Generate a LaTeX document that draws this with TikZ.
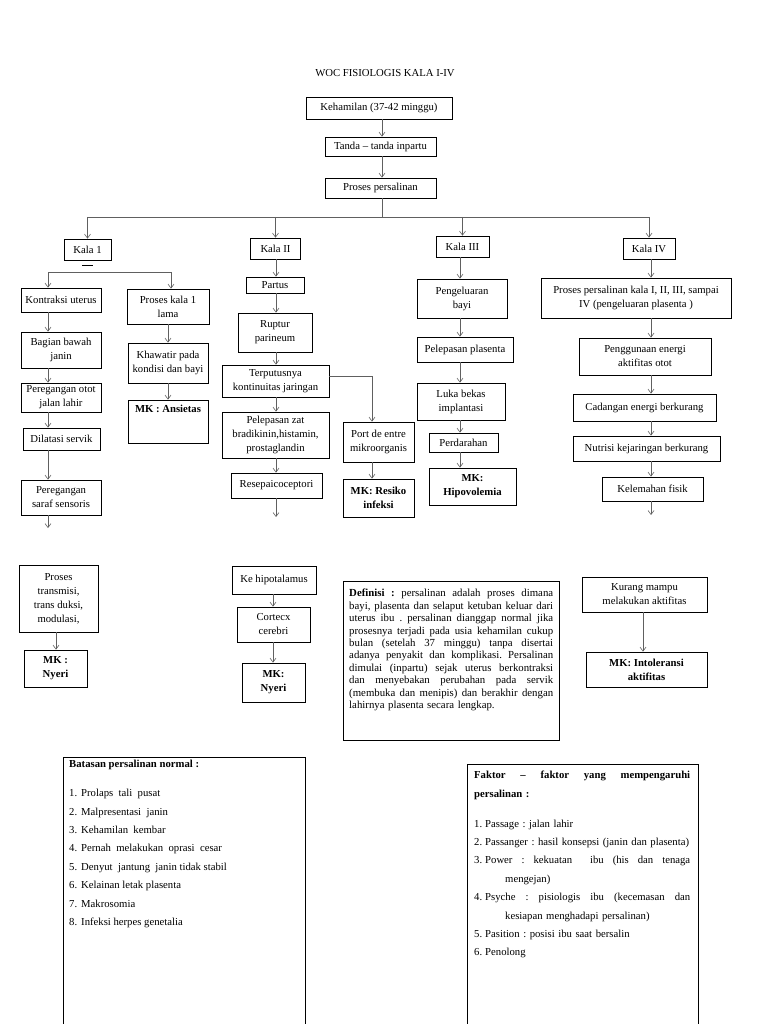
\documentclass[tikz,border=0pt]{standalone}
\usepackage{fontspec}
\setmainfont{Liberation Serif}
\usetikzlibrary{arrows.meta,calc}
\newcommand{\wocf}{\fontsize{10.7}{14}\selectfont}
\newcommand{\jline}[2][\hsize]{\makebox[#1][s]{\spaceskip=0.25em plus 1fil minus 0.1em\relax #2}}
\frenchspacing

\begin{document}
\begin{tikzpicture}[x=1pt,y=-1pt,
				box/.style={draw, line width=0.8pt, inner sep=2pt, align=center, font=\wocf},
				mk/.style={box, font=\wocf\bfseries},
				sz/.style 2 args={minimum width=#1pt, minimum height=#2pt},
				arr/.style={draw=gray!75!black, line width=0.6pt, -{Straight Barb[length=4pt,width=6pt]}},
				ln/.style={draw=gray!75!black, line width=0.6pt},
				frame/.style={draw, line width=0.8pt},
				txt/.style={inner sep=0pt, align=left, font=\wocf}]
	\useasboundingbox (0,0) rectangle (768,1024);
	\node[font=\wocf] (ttl) at (385,73) {WOC FISIOLOGIS KALA I-IV};
	\node[box, sz={146}{22}] (keh) at (379,108) {Kehamilan (37-42 minggu)};
	\node[box, sz={111}{19}] (tanda) at (380.5,146.5) {Tanda -- tanda inpartu};
	\node[box, sz={111}{20}] (pros) at (380.5,188) {Proses persalinan};
	\node[box, sz={47}{21}] (k1) at (87.5,249.5) {Kala 1};
	\node[box, sz={50}{21}] (k2) at (275.5,248.5) {Kala II};
	\node[box, sz={53}{21}] (k3) at (462.5,246.5) {Kala III};
	\node[box, sz={52}{21}] (k4) at (649,248.5) {Kala IV};
	\node[box, sz={80}{24}] (kon) at (61,300) {Kontraksi uterus};
	\node[box, sz={80}{36}] (bag) at (61,350) {Bagian bawah\\janin};
	\node[box, sz={80}{29}] (pot) at (61,397.5) {Peregangan otot\\jalan lahir};
	\node[box, sz={77}{22}] (dil) at (61.5,439) {Dilatasi servik};
	\node[box, sz={80}{35}] (pss) at (61,497.5) {Peregangan\\saraf sensoris};
	\node[box, sz={82}{35}] (pkl) at (168,306.5) {Proses kala 1\\lama};
	\node[box, sz={80}{40}] (kha) at (168,363) {Khawatir pada\\kondisi dan bayi};
	\node[mk, sz={80}{43}] (ans) at (168,421.5) {MK : Ansietas\\[12pt]\mbox{}};
	\node[box, sz={58}{16}] (par) at (275,285) {Partus};
	\node[box, sz={74}{39}] (rup) at (275,332.5) {Ruptur\\parineum};
	\node[box, sz={107}{32}] (ter) at (275.5,381) {Terputusnya\\kontinuitas jaringan};
	\node[box, sz={107}{46}] (pza) at (275.5,435) {Pelepasan zat\\bradikinin,histamin,\\prostaglandin};
	\node[box, sz={91}{25}] (res) at (276.5,485.5) {Resepaicoceptori};
	\node[box, sz={71}{40}] (prt) at (378.5,442) {Port de entre\\mikroorganis};
	\node[mk, sz={71}{38}] (rsk) at (378.5,498) {MK: Resiko\\infeksi};
	\node[box, sz={90}{39}] (pgb) at (462,298.5) {Pengeluaran\\bayi};
	\node[box, sz={96}{25}] (ppl) at (465,349.5) {Pelepasan plasenta};
	\node[box, sz={88}{37}] (luk) at (461,401.5) {Luka bekas\\implantasi};
	\node[box, sz={69}{19}] (prd) at (463.5,442.5) {Perdarahan};
	\node[mk, sz={87}{37}] (hip) at (472.5,486.5) {MK:\\Hipovolemia};
	\node[box, sz={190}{40}] (pk4) at (636,298) {Proses persalinan kala I, II, III, sampai\\IV (pengeluaran plasenta )};
	\node[box, sz={132}{37}] (pen) at (645,356.5) {Penggunaan energi\\aktifitas otot};
	\node[box, sz={143}{27}] (cad) at (644.5,407.5) {Cadangan energi berkurang};
	\node[box, sz={147}{25}] (nut) at (646.5,448.5) {Nutrisi kejaringan berkurang};
	\node[box, sz={101}{24}] (kel) at (652.5,489) {Kelemahan fisik};
	\node[box, sz={79}{67}] (ptr) at (58.5,598.5) {Proses\\transmisi,\\trans duksi,\\modulasi,};
	\node[mk, sz={63}{37}] (ny1) at (55.5,668.5) {MK :\\Nyeri};
	\node[box, sz={84}{28}] (hpt) at (274,580) {Ke hipotalamus};
	\node[box, sz={73}{35}] (cor) at (273.5,624.5) {Cortecx\\cerebri};
	\node[mk, sz={63}{39}] (ny2) at (273.5,682.5) {MK:\\Nyeri};
	\node[box, sz={125}{35}] (kur) at (644.5,594.5) {Kurang mampu\\melakukan aktifitas};
	\node[mk, sz={121}{35}] (int) at (646.5,669.5) {MK: Intoleransi\\aktifitas};
	\coordinate (sp) at (382,217);
	\coordinate (k1l) at (48,272);
	\coordinate (k1r) at (171,272);
	\coordinate (e1) at (48,528);
	\coordinate (e2) at (276,517);
	\coordinate (e4) at (651,515);
	\draw[ln] (pros.south -| sp) -- (sp);
	\draw[ln] (sp -| k1) -- (sp -| k4);
	\foreach \k in {k1,k2,k3,k4}
		\draw[arr] (sp -| \k) -- (\k);
	\draw[line width=0.8pt] (82,265) -- (93,265);
	\draw[ln] (k1l) -- (k1r);
	\draw[arr] (k1l) -- (kon.north -| k1l);
	\draw[arr] (k1r) -- (pkl.north -| k1r);
	\foreach \a/\b/\c in {keh/tanda/382, tanda/pros/382,
			kon/bag/48, bag/pot/48, pot/dil/48, dil/pss/48, pkl/kha/168, kha/ans/168,
			k2/par/276, par/rup/276, rup/ter/276, ter/pza/276, pza/res/276, prt/rsk/372,
			k3/pgb/460, pgb/ppl/460, ppl/luk/460, luk/prd/460, prd/hip/460,
			k4/pk4/651, pk4/pen/651, pen/cad/651, cad/nut/651, nut/kel/651,
			ptr/ny1/56, hpt/cor/273, cor/ny2/273, kur/int/643}
		\draw[arr] (\a.south -| \c,0) -- (\b.north -| \c,0);
	\draw[arr] (pss.south -| e1) -- (e1);
	\draw[arr] (res.south -| e2) -- (e2);
	\draw[arr] (kel.south -| e4) -- (e4);
	\draw[arr] ([yshift=5pt]ter.east) -| (prt.north -| 372,0);
	\draw[frame] (343,581) rectangle (559,740);
	\node[txt, anchor=north west, text width=204pt, font=\fontsize{10.8}{12.4}\selectfont] (def) at (349,589) {%
		\jline{\textbf{Definisi :} persalinan adalah proses dimana}\\
		\jline{bayi, plasenta dan selaput ketuban keluar dari}\\
		\jline{uterus ibu . persalinan dianggap normal jika}\\
		\jline{prosesnya terjadi pada usia kehamilan cukup}\\
		\jline{bulan (setelah 37 minggu) tanpa disertai}\\
		\jline{adanya penyakit dan komplikasi. Persalinan}\\
		\jline{dimulai (inpartu) sejak uterus berkontraksi}\\
		\jline{dan menyebakan perubahan pada servik}\\
		\jline{(membuka dan menipis) dan berakhir dengan}\\
		lahirnya plasenta secara lengkap.};
	\draw[frame] (63,1024) |- (305,757) -- (305,1024);
	\node[txt, anchor=north west, font=\fontsize{10.7}{18.4}\selectfont] (bts) at (69,760) {%
		\textbf{Batasan persalinan normal :}\\[10.6pt]
		\makebox[12pt][l]{1.}Prolaps \ tali \ pusat\\
		\makebox[12pt][l]{2.}Malpresentasi \ janin\\
		\makebox[12pt][l]{3.}Kehamilan \ kembar\\
		\makebox[12pt][l]{4.}Pernah \ melakukan \ oprasi \ cesar\\
		\makebox[12pt][l]{5.}Denyut \ jantung \ janin tidak stabil\\
		\makebox[12pt][l]{6.}Kelainan letak plasenta\\
		\makebox[12pt][l]{7.}Makrosomia\\
		\makebox[12pt][l]{8.}Infeksi herpes genetalia};
	\draw[frame] (467,1024) |- (698,764) -- (698,1024);
	\node[txt, anchor=north west, text width=216pt, font=\fontsize{10.7}{18.4}\selectfont] (fkt) at (474,771) {%
		\jline{\textbf{Faktor -- faktor yang mempengaruhi}}\\
		\textbf{persalinan :}\\[11.6pt]
		\makebox[11pt][l]{1.}Passage : jalan lahir\\
		\makebox[11pt][l]{2.}\mbox{Passanger : hasil konsepsi (janin dan plasenta)}\\
		\makebox[11pt][l]{3.}\jline[205pt]{Power : kekuatan \ ibu (his dan tenaga}\\
		\hspace*{31pt}mengejan)\\
		\makebox[11pt][l]{4.}\jline[205pt]{Psyche : pisiologis ibu (kecemasan dan}\\
		\hspace*{31pt}kesiapan menghadapi persalinan)\\
		\makebox[11pt][l]{5.}Pasition : posisi ibu saat bersalin\\
		\makebox[11pt][l]{6.}Penolong};
\end{tikzpicture}
\end{document}
